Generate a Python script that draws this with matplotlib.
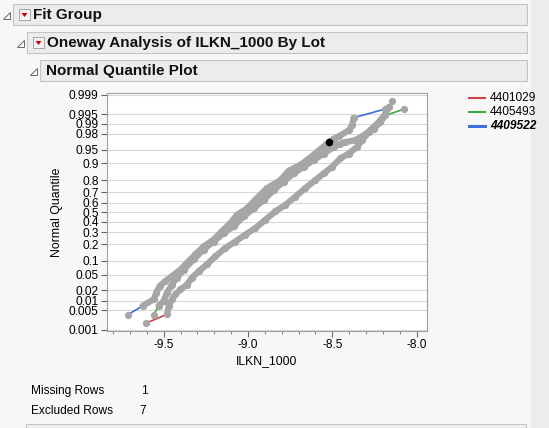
import matplotlib
matplotlib.use("Agg")
import matplotlib.pyplot as plt
from matplotlib.patches import Rectangle, Polygon
from statistics import NormalDist

lots = ["4401029", "4405493", "4409522"]
colors = ["#d0404a", "#3aa845", "#3d6fd8"]

x_4409522 = [-9.711,-9.625,-9.559,-9.543,-9.524,-9.490,-9.451,-9.401,-9.362,-9.312,-9.263,-9.204,-9.154,-9.105,-9.065,-9.006,-8.947,-8.887,-8.808,-8.759,-8.690,-8.650,-8.591,-8.532,-8.492,-8.462,-8.403,-8.383,-8.374,-8.186]
z_4409522 = [-2.69,-2.46,-2.29,-2.11,-1.94,-1.81,-1.68,-1.51,-1.33,-1.11,-0.90,-0.72,-0.50,-0.29,-0.07,0.10,0.37,0.63,0.84,1.09,1.24,1.37,1.58,1.80,1.93,1.99,2.15,2.28,2.48,2.71]
x_4405493 = [-9.559,-9.530,-9.500,-9.480,-9.451,-9.421,-9.381,-9.322,-9.263,-9.204,-9.144,-9.085,-9.026,-8.966,-8.907,-8.848,-8.789,-8.729,-8.670,-8.611,-8.551,-8.492,-8.453,-8.423,-8.364,-8.314,-8.285,-8.255,-8.215,-8.186,-8.073]
z_4405493 = [-2.69,-2.46,-2.33,-2.11,-1.90,-1.72,-1.51,-1.24,-0.98,-0.77,-0.55,-0.37,-0.11,0.10,0.32,0.58,0.80,1.02,1.19,1.37,1.54,1.71,1.80,1.84,1.89,2.02,2.11,2.19,2.37,2.54,2.71]
x_4401029 = [-9.603,-9.480,-9.470,-9.451,-9.431,-9.401,-9.362,-9.332,-9.292,-9.243,-9.194,-9.134,-9.075,-9.016,-8.957,-8.897,-8.838,-8.779,-8.719,-8.660,-8.601,-8.551,-8.502,-8.453,-8.403,-8.354,-8.324,-8.304,-8.275,-8.255,-8.215,-8.186,-8.166,-8.146]
z_4401029 = [-2.91,-2.68,-2.46,-2.29,-2.16,-2.03,-1.90,-1.72,-1.55,-1.37,-1.16,-0.94,-0.77,-0.59,-0.42,-0.20,0.02,0.19,0.41,0.63,0.84,1.02,1.19,1.41,1.54,1.71,1.89,2.02,2.15,2.24,2.41,2.58,2.76,2.93]
sel_x, sel_z = [-8.520], [1.84]

prob_ticks = [0.001,0.005,0.01,0.02,0.05,0.1,0.2,0.3,0.4,0.5,0.6,0.7,0.8,0.9,0.95,0.98,0.99,0.995,0.999]
prob_labels = ["0.001","0.005","0.01","0.02","0.05","0.1","0.2","0.3","0.4","0.5","0.6","0.7","0.8","0.9","0.95","0.98","0.99","0.995","0.999"]
xticks = [-9.5, -9.0, -8.5, -8.0]

plt.rcParams['font.family'] = ['Liberation Sans', 'DejaVu Sans']
W, H = 549, 428
fig = plt.figure(figsize=(W/100, H/100), dpi=100, facecolor="#f7f7f7")

def px(x, y, w, h):
    return [x/W, 1-(y+h)/H, w/W, h/H]

for (x0, y0, label, icon) in [(13, 4, "Fit Group", True), (27, 32, "Oneway Analysis of ILKN_1000 By Lot", True), (40, 60, "Normal Quantile Plot", False)]:
    fig.patches.append(Rectangle((x0/W, 1-(y0+21)/H), (527-x0)/W, 21/H, transform=fig.transFigure,
                                 facecolor="#ececec", edgecolor="#c4c4c4", lw=0.8))
    tx = x0 - 10
    fig.patches.append(Polygon([((tx)/W, 1-(y0+15)/H), ((tx+7)/W, 1-(y0+15)/H), ((tx+7)/W, 1-(y0+8)/H)],
                               closed=True, transform=fig.transFigure, facecolor="#ffffff", edgecolor="#666666", lw=0.7))
    lx = x0 + 6
    if icon:
        fig.patches.append(Rectangle(((x0+6)/W, 1-(y0+16)/H), 11/W, 11/H, transform=fig.transFigure,
                                     facecolor="#f4f4f4", edgecolor="#9a9a9a", lw=0.6))
        fig.patches.append(Polygon([((x0+8.5)/W, 1-(y0+9)/H), ((x0+14.5)/W, 1-(y0+9)/H), ((x0+11.5)/W, 1-(y0+13)/H)],
                                   closed=True, transform=fig.transFigure, facecolor="#cc0000", edgecolor="none"))
        lx = x0 + 20
    fig.text(lx/W, 1-(y0+11)/H, label, fontsize=11, fontweight="bold", va="center", ha="left", color="#111111")

ax = fig.add_axes(px(107, 93, 320, 238))
ax.set_facecolor("white")
nd = NormalDist()
zt = [nd.inv_cdf(p) for p in prob_ticks]
ax.set_yticks(zt)
ax.set_yticklabels(prob_labels, fontsize=8.6)
ax.yaxis.grid(True, color="#d8d8d8", lw=0.8)
ax.set_axisbelow(True)
ax.set_xlim(-9.836, -7.939)
ax.set_ylim(-3.12, 3.13)
ax.set_xticks(xticks)
ax.set_xticklabels(["-9.5", "-9.0", "-8.5", "-8.0"], fontsize=8.6)
ax.set_xticks([-9.8+0.1*i for i in range(19)], minor=True)
ax.tick_params(axis="x", which="minor", length=2.5, color="#666666")
ax.tick_params(axis="both", which="major", length=4, color="#666666", pad=2)
for s in ax.spines.values():
    s.set_color("#a0a0a0")
ax.set_xlabel("ILKN_1000", fontsize=8.8, labelpad=3)
ax.set_ylabel("Normal Quantile", fontsize=8.8, labelpad=4)

series = [(x_4401029, z_4401029), (x_4405493, z_4405493), (x_4409522, z_4409522)]
for (xs, zs), c in zip(series, colors):
    ax.plot(xs, zs, color=c, lw=1.2, zorder=2)
for (xs, zs), c in zip(series, colors):
    ax.plot(xs[1:-1], zs[1:-1], color="#a6a6a6", lw=4.5, solid_capstyle="round", zorder=3)
    ax.plot(xs, zs, ls="none", marker="o", ms=4.2, color="#a6a6a6", zorder=4)
ax.plot(sel_x, sel_z, ls="none", marker="o", ms=4.5, color="black", zorder=5)

for i, (lab, c) in enumerate(zip(lots, colors)):
    y = 98 + 14*i
    fig.lines.append(plt.Line2D([469/W, 485/W], [1-y/H, 1-y/H], color=c, lw=2.2 if i == 2 else 1.5, transform=fig.transFigure))
    fig.text(490/W, 1-y/H, lab, fontsize=8.6, va="center", ha="left",
             fontweight="bold" if i == 2 else "normal", style="italic" if i == 2 else "normal")

fig.text(31/W, 1-391/H, "Missing Rows", fontsize=8.6, va="center")
fig.text(141/W, 1-391/H, "1", fontsize=8.6, va="center")
fig.text(31/W, 1-411/H, "Excluded Rows", fontsize=8.6, va="center")
fig.text(139/W, 1-411/H, "7", fontsize=8.6, va="center")
fig.patches.append(Rectangle((26/W, 0), 500/W, 4/H, transform=fig.transFigure, facecolor="#f0f0f0", edgecolor="#c4c4c4", lw=0.8))
fig.patches.append(Rectangle((531/W, 0), 18/W, 1, transform=fig.transFigure, facecolor="#ececec", edgecolor="none"))

fig.savefig("out.png", dpi=100, facecolor=fig.get_facecolor())
